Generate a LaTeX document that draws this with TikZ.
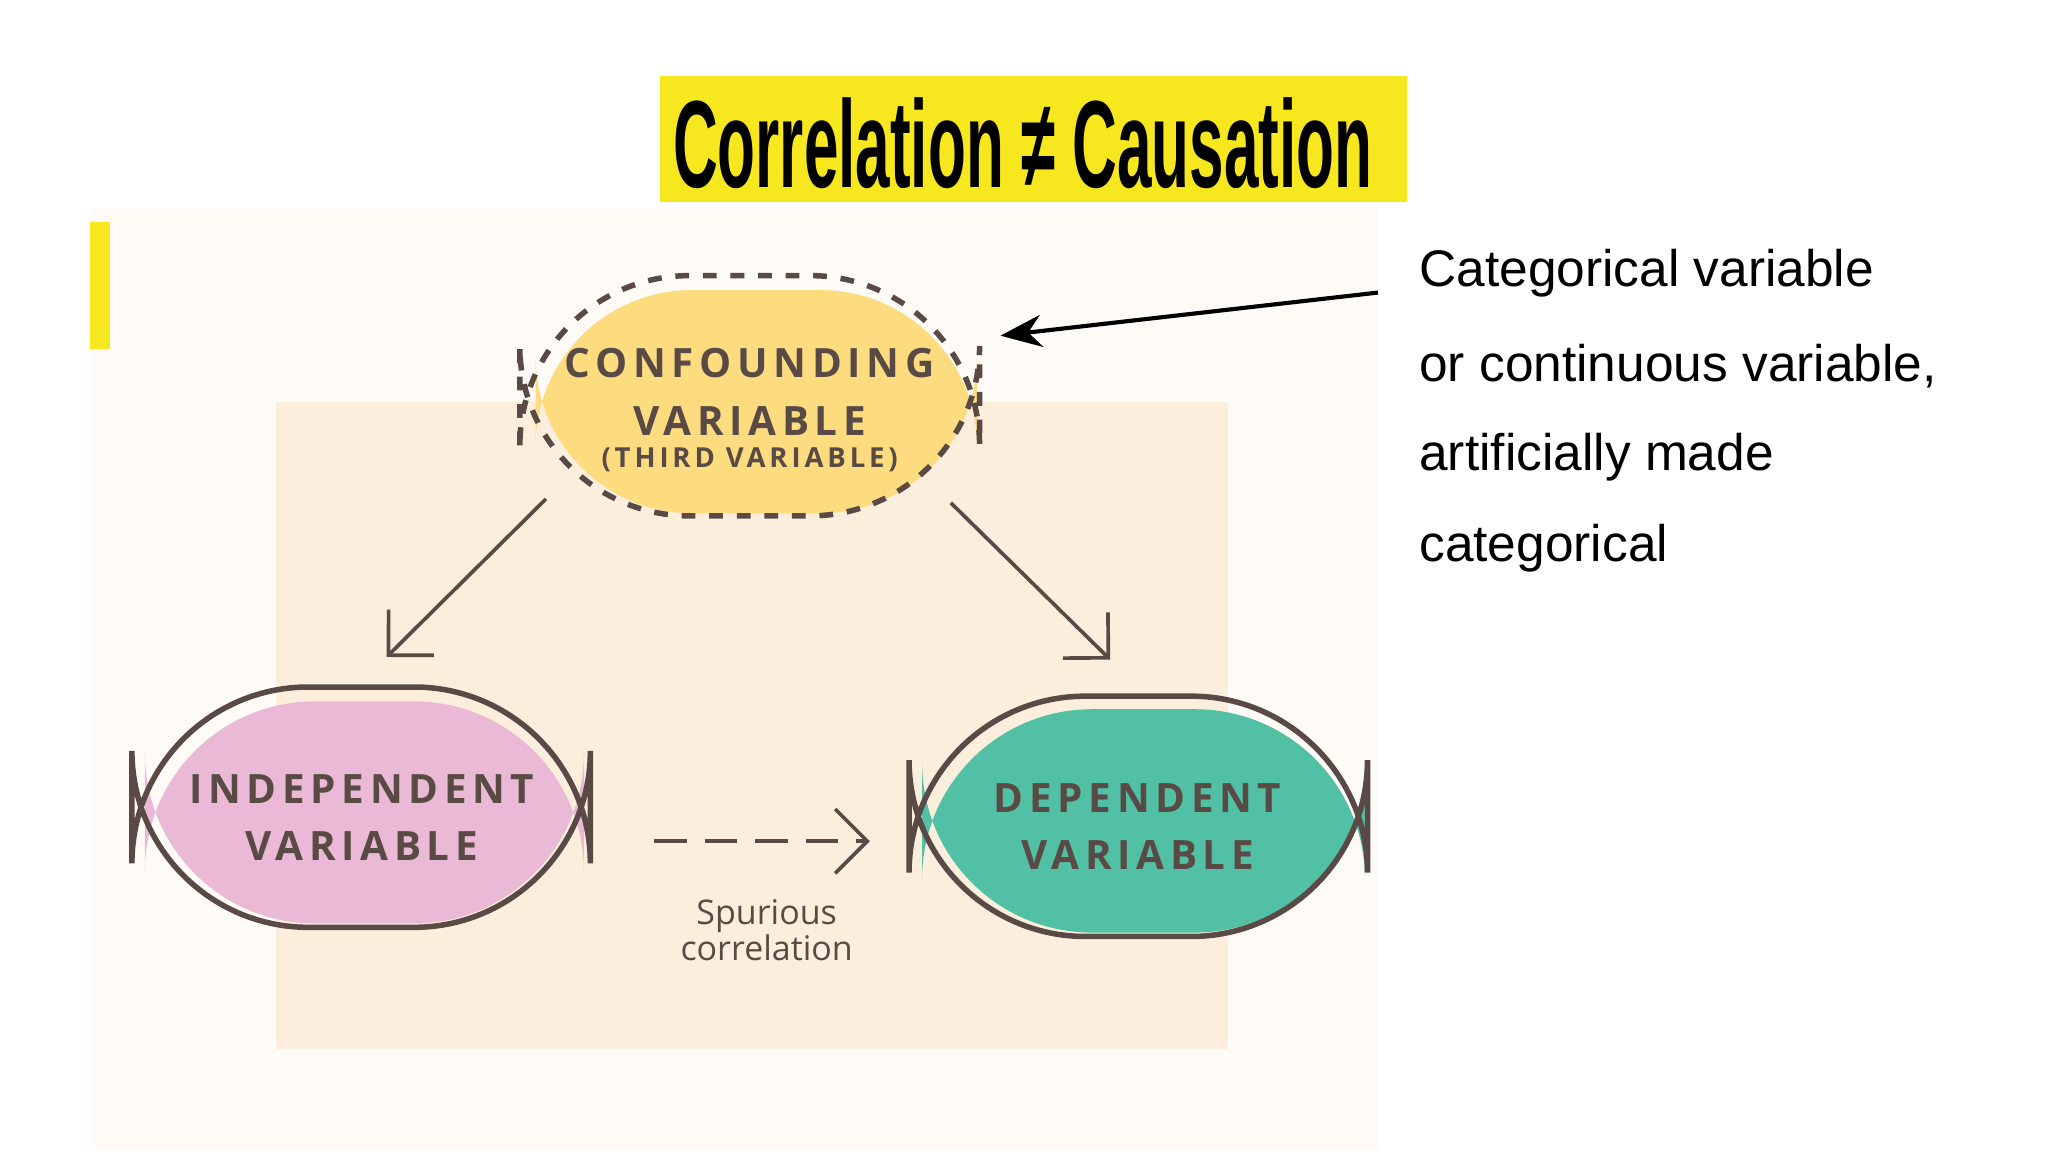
\documentclass[tikz,border=0pt]{standalone}
\usepackage{fontspec}
\setmainfont{Liberation Sans}
\newfontfamily\boxfont[LetterSpace=14]{Open Sans}
\newfontfamily\labfont{Open Sans}
\usetikzlibrary{arrows.meta}
\definecolor{titley}{HTML}{F6E71E}
\definecolor{panel}{HTML}{FBEEDC}
\definecolor{faint}{HTML}{FEFBF7}
\definecolor{conf}{HTML}{FDDC80}
\definecolor{indep}{HTML}{E9B9D6}
\definecolor{dep}{HTML}{52C0A4}
\definecolor{ink}{HTML}{594A45}
\tikzset{
  outl/.style={draw=ink, line width=1.2pt, rounded corners=1.35cm},
  boxtxt/.style={text=ink, font=\boxfont\bfseries\fontsize{8.8}{12.5}\selectfont, align=center},
  flow/.style={draw=ink, line width=0.8pt, -{Straight Barb[length=7pt,width=13pt,angle'=90]}},
}
\begin{document}
\begin{tikzpicture}[x=0.01cm,y=-0.01cm]
\useasboundingbox (0,0) rectangle (1568,882);
\fill[white] (0,0) rectangle (1568,882);
\fill[faint] (70,160) rectangle (1055,880);
\fill[panel] (211,308) rectangle (940,803);
% title
\fill[titley] (505,58) rectangle (1077,155);
\node[inner sep=0, xscale=0.5, font=\bfseries\fontsize{27}{30}\selectfont] (title) at (783,110) {Correlation ≠ Causation};
\fill[titley] (69,170) rectangle (84,267);
% confounding
\fill[conf, rounded corners=1.2cm] (410,222) rectangle (748,393);
\draw[ink, line width=1.2pt, dashed, rounded corners=1.3cm] (398,211) rectangle (750,395);
\node[boxtxt] (conf) at (574,300) {CONFOUNDING\\VARIABLE};
\node[text=ink, font=\boxfont\bfseries\fontsize{6}{7}\selectfont] (third) at (574,352) {(THIRD VARIABLE)};
% independent
\fill[indep, rounded corners=1.3cm] (111,537) rectangle (447,707);
\draw[outl] (101,526) rectangle (452,710);
\node[boxtxt] (ind) at (277,626) {INDEPENDENT\\VARIABLE};
% dependent
\fill[dep, rounded corners=1.3cm] (706,543) rectangle (1045,714);
\draw[outl] (696,533) rectangle (1047,717);
\node[boxtxt] (dep) at (871,633) {DEPENDENT\\VARIABLE};
% arrows
\coordinate (c1) at (418,382); \coordinate (i1) at (296,503);
\coordinate (c2) at (728,385); \coordinate (d1) at (850,505);
\draw[flow] (c1) -- (i1);
\draw[flow] (c2) -- (d1);
\coordinate (s1) at (501,644); \coordinate (s2) at (666,644);
\draw[flow, dashed, dash pattern=on 7pt off 4pt] (s1) -- (s2);
\node[text=ink, font=\labfont\fontsize{7.4}{7.8}\selectfont, align=center] (spur) at (587,712) {Spurious\\correlation};
% right text
\node[anchor=west, inner sep=0, font=\fontsize{11.2}{11.2}\selectfont] (t1) at (1086,209) {Categorical variable};
\node[anchor=west, inner sep=0, font=\fontsize{11.2}{11.2}\selectfont] (t2) at (1086,280) {or continuous variable,};
\node[anchor=west, inner sep=0, font=\fontsize{11.2}{11.2}\selectfont] (t3) at (1086,350) {artificially made};
\node[anchor=west, inner sep=0, font=\fontsize{11.2}{11.2}\selectfont] (t4) at (1086,420) {categorical};
\coordinate (a1) at (1055,224); \coordinate (a2) at (766,257);
\draw[black, line width=0.9pt, -{Stealth[length=9pt,width=7pt]}] (a1) -- (a2);
\end{tikzpicture}
\end{document}
